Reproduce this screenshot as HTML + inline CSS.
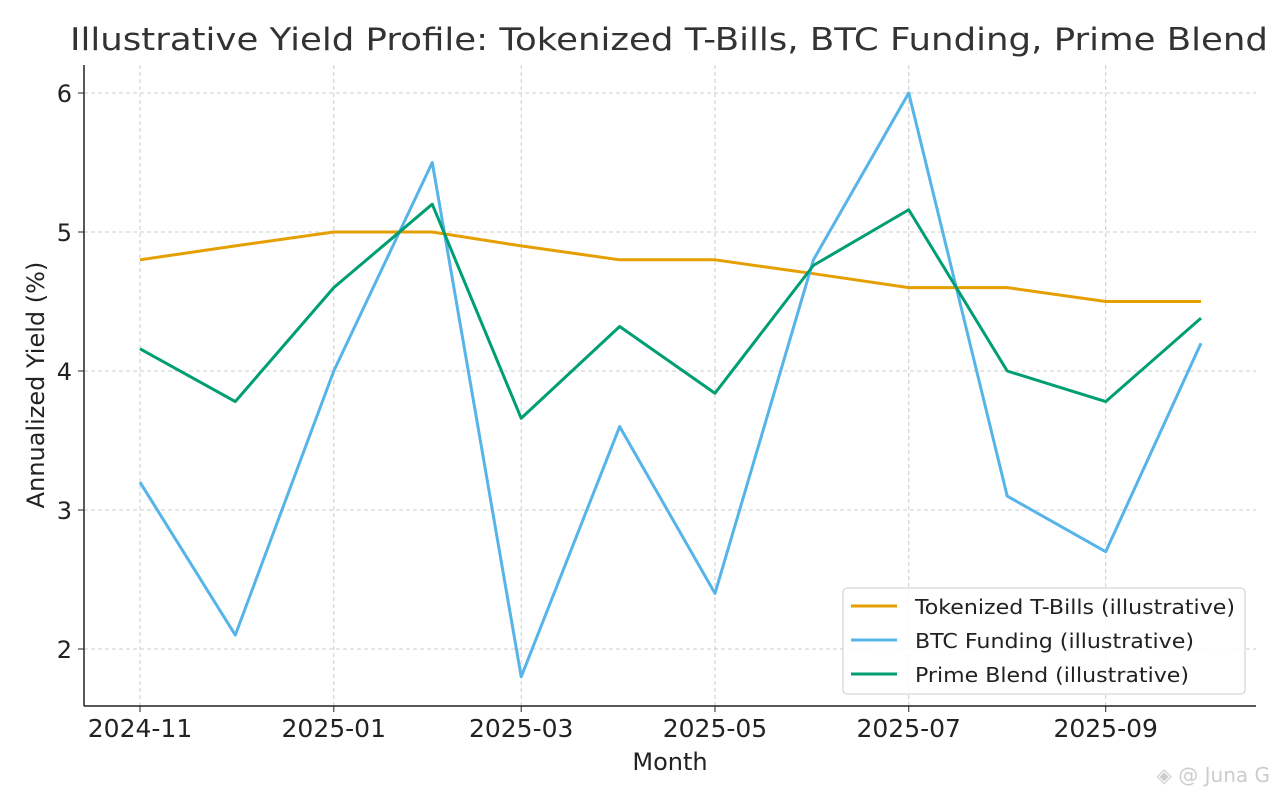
<!DOCTYPE html>
<html><head><meta charset="utf-8"><style>
html,body{margin:0;padding:0;background:#fff;}
svg{display:block;font-family:"DejaVu Sans","Liberation Sans",sans-serif;}
</style></head><body>
<svg id="chart" width="1280" height="800">
<text x="70" y="50" font-size="31" textLength="1198" lengthAdjust="spacingAndGlyphs" fill="#333">Illustrative Yield Profile: Tokenized T-Bills, BTC Funding, Prime Blend</text>
<g id="grid"></g><g id="series"></g><g id="axes"></g>
<text x="670" y="770" font-size="24" text-anchor="middle" fill="#222">Month</text>
<text transform="translate(44,385) rotate(-90)" font-size="24" text-anchor="middle" fill="#222">Annualized Yield (%)</text>
<text x="1270" y="782" font-size="20" text-anchor="end" fill="#ccc">◈ @ Juna G</text>
<g id="legend"></g>
</svg>
<script>
const months=["2024-11-01","2024-12-01","2025-01-01","2025-02-01","2025-03-01","2025-04-01","2025-05-01","2025-06-01","2025-07-01","2025-08-01","2025-09-01","2025-10-01"];
const tbills=[4.8,4.9,5.0,5.0,4.9,4.8,4.8,4.7,4.6,4.6,4.5,4.5];
const btc=[3.2,2.1,4.0,5.5,1.8,3.6,2.4,4.8,6.0,3.1,2.7,4.2];
const prime=[4.16,3.78,4.6,5.2,3.66,4.32,3.84,4.76,5.16,4.0,3.78,4.38];
const xTicks=["2024-11","2025-01","2025-03","2025-05","2025-07","2025-09"];
const yTicks=[2,3,4,5,6];
const seriesNames=["Tokenized T-Bills (illustrative)","BTC Funding (illustrative)","Prime Blend (illustrative)"];
const legendWidths=[320,279,274];
const colors=["#e69f00","#56b4e9","#009e73"];
const NS="http://www.w3.org/2000/svg";
const L=84,R=1256,T=65,B=706;
const d0=Date.parse("2024-11-01"),d1=Date.parse("2025-10-01");
function x(ds){return 140+(Date.parse(ds)-d0)/(d1-d0)*1061;}
function y(v){return 93+(6-v)*139;}
function mk(tag,attrs,parent){const e=document.createElementNS(NS,tag);for(const k in attrs)e.setAttribute(k,attrs[k]);parent.appendChild(e);return e;}
const grid=document.getElementById('grid'),axes=document.getElementById('axes'),ser=document.getElementById('series'),leg=document.getElementById('legend');
yTicks.forEach(v=>{
 const g=mk('line',{x1:L,x2:R,y1:y(v),y2:y(v),stroke:'#ccc','stroke-dasharray':'4,3','stroke-width':1},grid);
 
 
 mk('line',{x1:L-6,x2:L,y1:y(v),y2:y(v),stroke:'#222'},axes);
 const t=mk('text',{x:L-12,y:y(v)+9,'font-size':24,'text-anchor':'end',fill:'#222'},axes);t.textContent=v;
 
 
});
xTicks.forEach(m=>{
 const px=x(m+"-01");
 const g=mk('line',{x1:px,x2:px,y1:T,y2:B,stroke:'#ccc','stroke-dasharray':'4,3','stroke-width':1},grid);
 
 
 mk('line',{x1:px,x2:px,y1:B,y2:B+6,stroke:'#222'},axes);
 const t=mk('text',{x:px,y:B+31,'font-size':25,'text-anchor':'middle',fill:'#222'},axes);t.textContent=m;
 
 
});
mk('line',{x1:L,x2:L,y1:T,y2:B,stroke:'#222','stroke-width':1.5},axes);
mk('line',{x1:L,x2:R,y1:B,y2:B,stroke:'#222','stroke-width':1.5},axes);
[tbills,btc,prime].forEach((s,i)=>{
 const p=mk('polyline',{points:s.map((v,j)=>x(months[j])+','+y(v)).join(' '),fill:'none',stroke:colors[i],'stroke-width':3,'stroke-linejoin':'round'},ser);
 
 
});
const box=mk('rect',{x:843,y:588,width:402,height:106,rx:4,fill:'#fff','fill-opacity':0.85,stroke:'#ccc'},leg);


seriesNames.forEach((n,i)=>{
 const yy=606+i*34;
 mk('line',{x1:851,x2:897,y1:yy,y2:yy,stroke:colors[i],'stroke-width':3},leg);
 const t=mk('text',{x:915,y:yy+8,'font-size':20,fill:'#222',textLength:legendWidths[i],lengthAdjust:'spacingAndGlyphs'},leg);t.textContent=n;
 
 
});
</script>
</body></html>
